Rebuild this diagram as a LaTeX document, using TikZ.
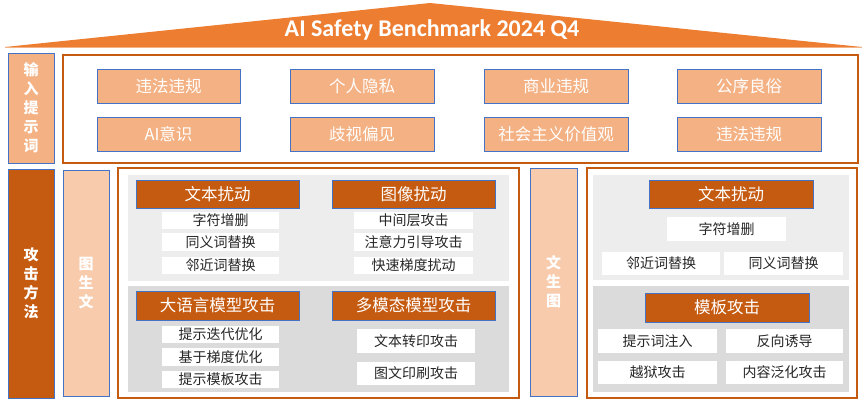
\documentclass[tikz,border=0pt]{standalone}
\usepackage{fontspec}
\setmainfont{Carlito}
\newfontfamily\cjk{Noto Sans CJK SC}
\definecolor{roof}{HTML}{ED7D31}
\definecolor{light}{HTML}{F4B183}
\definecolor{dark}{HTML}{C55A11}
\definecolor{peach}{HTML}{F8CBAD}
\definecolor{edge}{HTML}{4472C4}
\definecolor{panA}{HTML}{EDEDED}
\definecolor{panB}{HTML}{DBDBDB}
\definecolor{ink}{HTML}{262626}
\tikzset{
  base/.style={rectangle,inner sep=0pt,outer sep=0pt},
  catbox/.style={base,fill=light,draw=edge,line width=0.8pt,text=white,font=\cjk\fontsize{16.5}{19}\selectfont},
  sidelab/.style={base,draw=edge,line width=0.8pt,text=white,align=center,font=\cjk\bfseries\fontsize{15}{19}\selectfont},
  mainbox/.style={base,fill=white,draw=dark,line width=1.8pt},
  panelA/.style={base,fill=panA},
  panelB/.style={base,fill=panB},
  header/.style={base,fill=dark,draw=edge,line width=0.8pt,text=white,font=\cjk\fontsize{16.5}{19}\selectfont},
  item/.style={base,fill=white,text=ink,font=\cjk\fontsize{14}{17}\selectfont},
}
\newcommand\bx[7]{\node[#1,minimum width={(#5-#3)*1pt},minimum height={(#6-#4)*1pt}] (#2) at ({(#3+#5)/2},{(#4+#6)/2}) {#7};}
\begin{document}
\begin{tikzpicture}[x=1pt,y=-1pt]
\useasboundingbox (0,0) rectangle (865,402);
% roof
\fill[roof] (5,47) -- (430,3) -- (862,47) -- cycle;
\draw[light,line width=0.8pt] (5,47) -- (862,47);
\node[text=white,font=\bfseries\fontsize{24}{28}\selectfont] (title) at (432,30) {AI Safety Benchmark 2024 Q4};
% input prompts
\bx{sidelab,fill=light}{lab1}{8}{53}{54}{163}{输\\入\\提\\示\\词}
\bx{mainbox}{top}{63}{55}{858}{163}{}
\bx{catbox}{c1}{97}{69}{240}{103}{违法违规}
\bx{catbox}{c2}{290}{69}{434}{103}{个人隐私}
\bx{catbox}{c3}{484}{69}{628}{103}{商业违规}
\bx{catbox}{c4}{677}{69}{821}{103}{公序良俗}
\bx{catbox}{c5}{97}{117}{240}{151}{AI意识}
\bx{catbox}{c6}{290}{117}{434}{151}{歧视偏见}
\bx{catbox}{c7}{484}{117}{628}{151}{社会主义价值观}
\bx{catbox}{c8}{677}{117}{821}{151}{违法违规}
% attack methods
\bx{sidelab,fill=dark}{lab2}{8}{169}{54}{398}{攻\\击\\方\\法}
\bx{sidelab,fill=peach}{lab3}{63}{170}{109}{396}{图\\生\\文}
\bx{mainbox}{itt}{118}{168}{519}{398}{}
\bx{panelA}{pa}{128}{175}{509}{281}{}
\bx{panelB}{pb}{128}{286}{509}{392}{}
\bx{header}{h1}{136}{180}{299}{208}{文本扰动}
\bx{header}{h2}{332}{180}{495}{208}{图像扰动}
\bx{item}{i1}{162}{212}{279}{229}{字符增删}
\bx{item}{i2}{162}{233}{279}{251}{同义词替换}
\bx{item}{i3}{162}{257}{279}{274}{邻近词替换}
\bx{item}{i4}{354}{212}{473}{229}{中间层攻击}
\bx{item}{i5}{354}{233}{473}{251}{注意力引导攻击}
\bx{item}{i6}{354}{257}{473}{274}{快速梯度扰动}
\bx{header}{h3}{136}{291}{299}{320}{大语言模型攻击}
\bx{header}{h4}{332}{291}{495}{320}{多模态模型攻击}
\bx{item}{i7}{162}{326}{279}{343}{提示迭代优化}
\bx{item}{i8}{162}{348}{279}{366}{基于梯度优化}
\bx{item}{i9}{162}{371}{279}{388}{提示模板攻击}
\bx{item}{i10}{357}{329}{475}{353}{文本转印攻击}
\bx{item}{i11}{357}{362}{475}{385}{图文印刷攻击}
% text to image
\bx{sidelab,fill=peach}{lab4}{530}{168}{577}{396}{文\\生\\图}
\bx{mainbox}{tti}{587}{168}{857}{398}{}
\bx{panelA}{pc}{593}{175}{849}{280}{}
\bx{panelB}{pd}{593}{286}{849}{392}{}
\bx{header}{h5}{649}{180}{813}{208}{文本扰动}
\bx{item}{j1}{667}{217}{786}{241}{字符增删}
\bx{item}{j2}{602}{252}{720}{275}{邻近词替换}
\bx{item}{j3}{724}{252}{843}{275}{同义词替换}
\bx{header}{h6}{645}{293}{809}{322}{模板攻击}
\bx{item}{j4}{598}{329}{717}{353}{提示词注入}
\bx{item}{j5}{726}{329}{843}{353}{反向诱导}
\bx{item}{j6}{598}{361}{717}{384}{越狱攻击}
\bx{item}{j7}{726}{361}{843}{384}{内容泛化攻击}
\end{tikzpicture}
\end{document}
